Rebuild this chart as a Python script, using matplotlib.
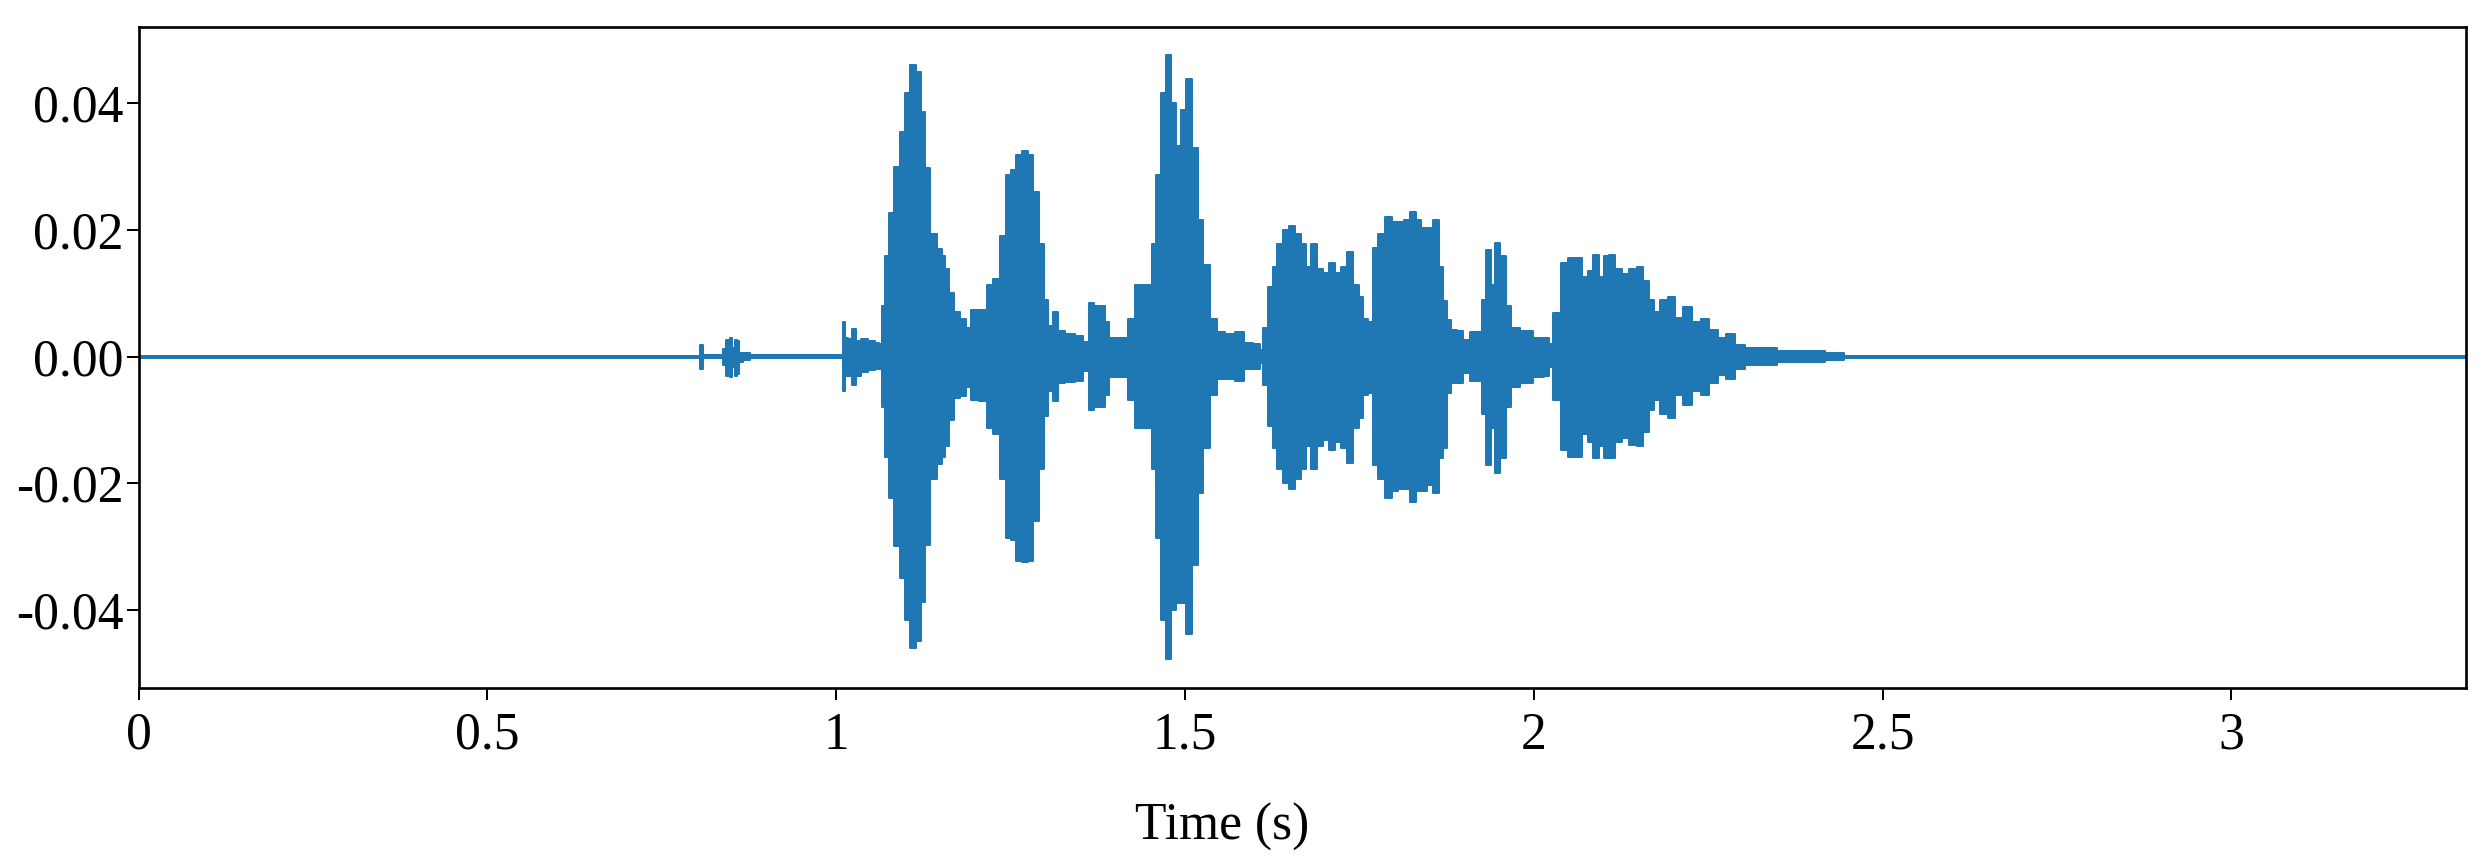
import matplotlib
matplotlib.use("Agg")
import matplotlib.pyplot as plt
import numpy as np

# Envelope of the waveform (time in s, amplitude)
time_s = [0.0, 0.803, 0.805, 0.808, 0.810, 0.836, 0.840, 0.845, 0.849, 0.853,
          0.856, 0.859, 0.862, 0.872, 0.880, 1.008, 1.011, 1.014, 1.020, 1.026,
          1.032, 1.040, 1.050, 1.060, 1.064, 1.0676, 1.0724, 1.0795, 1.0867, 1.0963,
          1.1010, 1.1096, 1.1177, 1.1249, 1.1297, 1.1392, 1.1488, 1.153, 1.158, 1.165,
          1.172, 1.182, 1.189, 1.197, 1.211, 1.2205, 1.230, 1.2396, 1.2468, 1.254,
          1.261, 1.2708, 1.278, 1.2864, 1.2946, 1.3008, 1.3065, 1.3137, 1.321, 1.335,
          1.3495, 1.359, 1.3662, 1.373, 1.383, 1.3877, 1.393, 1.414, 1.4236, 1.433,
          1.450, 1.4546, 1.4618, 1.469, 1.4771, 1.4833, 1.4905, 1.4977, 1.5063, 1.5144,
          1.5216, 1.5311, 1.5407, 1.550, 1.565, 1.579, 1.591, 1.605, 1.610, 1.615,
          1.622, 1.629, 1.636, 1.646, 1.653, 1.6625, 1.6697, 1.677, 1.685, 1.6936,
          1.7022, 1.7103, 1.720, 1.727, 1.7366, 1.7462, 1.752, 1.758, 1.7653, 1.7725,
          1.782, 1.7916, 1.801, 1.8107, 1.8178, 1.8265, 1.8346, 1.8418, 1.8513, 1.8609,
          1.868, 1.873, 1.8776, 1.885, 1.894, 1.904, 1.9134, 1.923, 1.9278, 1.935,
          1.9421, 1.947, 1.9564, 1.9636, 1.971, 1.990, 2.009, 2.019, 2.0234, 2.033,
          2.0449, 2.0544, 2.064, 2.0735, 2.0807, 2.0888, 2.0974, 2.1046, 2.1118, 2.1213,
          2.1309, 2.1428, 2.1524, 2.1619, 2.1691, 2.1763, 2.1858, 2.1978, 2.2074, 2.2203,
          2.2336, 2.2456, 2.2575, 2.2695, 2.2824, 2.2958, 2.3101, 2.340, 2.358, 2.406,
          2.430, 2.460, 3.336]

upper = [0.0, 0.0, 0.0019, 0.0019, 0.0002, 0.0002, 0.0012, 0.0026, 0.0030, 0.0014,
         0.0026, 0.0024, 0.0006, 0.0006, 0.0002, 0.0002, 0.0055, 0.0030, 0.0027, 0.0043,
         0.0025, 0.0027, 0.0025, 0.0022, 0.0020, 0.0080, 0.0158, 0.0226, 0.0300, 0.0355,
         0.0416, 0.0460, 0.0450, 0.0387, 0.0297, 0.0194, 0.0170, 0.0158, 0.0139, 0.0100,
         0.0070, 0.0060, 0.0045, 0.0074, 0.0074, 0.0113, 0.0123, 0.0190, 0.0287, 0.0294,
         0.0319, 0.0325, 0.0319, 0.0260, 0.0177, 0.0090, 0.0048, 0.0070, 0.0040, 0.0035,
         0.0032, 0.0023, 0.0084, 0.0080, 0.0080, 0.0055, 0.0030, 0.0030, 0.0060, 0.0113,
         0.0113, 0.0177, 0.0287, 0.0416, 0.0476, 0.0400, 0.0332, 0.0390, 0.0439, 0.0330,
         0.0216, 0.0145, 0.0060, 0.0038, 0.0035, 0.0039, 0.0022, 0.0020, 0.0010, 0.0045,
         0.0110, 0.0142, 0.0177, 0.0200, 0.0206, 0.0194, 0.0177, 0.0142, 0.0177, 0.0139,
         0.0132, 0.0148, 0.0132, 0.0142, 0.0165, 0.0113, 0.0094, 0.0060, 0.0055, 0.0171,
         0.0194, 0.0221, 0.0213, 0.0213, 0.0216, 0.0229, 0.0216, 0.0203, 0.0203, 0.0216,
         0.0142, 0.0087, 0.0058, 0.0042, 0.0040, 0.0026, 0.0039, 0.0039, 0.0090, 0.0168,
         0.0113, 0.0180, 0.0158, 0.0080, 0.0045, 0.0040, 0.0030, 0.0030, 0.0020, 0.0068,
         0.0148, 0.0155, 0.0155, 0.0126, 0.0135, 0.0161, 0.0126, 0.0158, 0.0161, 0.0139,
         0.0130, 0.0139, 0.0142, 0.0119, 0.0090, 0.0071, 0.0090, 0.0094, 0.0061, 0.0079,
         0.0055, 0.0060, 0.0042, 0.0030, 0.0035, 0.0019, 0.0013, 0.0013, 0.0008, 0.0008,
         0.0005, 0.0, 0.0]

lower = [0.0, 0.0, -0.0019, -0.0019, -0.0002, -0.0002, -0.0014, -0.0030, -0.0032, -0.0016,
         -0.0030, -0.0028, -0.0008, -0.0006, -0.0002, -0.0002, -0.0055, -0.0030, -0.0030, -0.0045,
         -0.0030, -0.0025, -0.0022, -0.0020, -0.0020, -0.0080, -0.0158, -0.0223, -0.0300, -0.0350,
         -0.0416, -0.0460, -0.0450, -0.0387, -0.0297, -0.0194, -0.0170, -0.0158, -0.0142, -0.0100,
         -0.0065, -0.0062, -0.0048, -0.0068, -0.0070, -0.0113, -0.0123, -0.0194, -0.0287, -0.0290,
         -0.0323, -0.0325, -0.0323, -0.0260, -0.0177, -0.0094, -0.0055, -0.0070, -0.0042, -0.0040,
         -0.0038, -0.0023, -0.0084, -0.0080, -0.0080, -0.0060, -0.0032, -0.0032, -0.0068, -0.0113,
         -0.0113, -0.0177, -0.0287, -0.0416, -0.0477, -0.0400, -0.0390, -0.0390, -0.0439, -0.0330,
         -0.0216, -0.0145, -0.0060, -0.0036, -0.0035, -0.0039, -0.0020, -0.0020, -0.0010, -0.0045,
         -0.0110, -0.0145, -0.0177, -0.0200, -0.0210, -0.0194, -0.0177, -0.0142, -0.0177, -0.0142,
         -0.0132, -0.0148, -0.0135, -0.0145, -0.0168, -0.0113, -0.0097, -0.0060, -0.0058, -0.0171,
         -0.0194, -0.0223, -0.0213, -0.0210, -0.0210, -0.0229, -0.0213, -0.0213, -0.0203, -0.0216,
         -0.0160, -0.0145, -0.0058, -0.0042, -0.0042, -0.0026, -0.0039, -0.0039, -0.0090, -0.0171,
         -0.0113, -0.0184, -0.0161, -0.0080, -0.0048, -0.0042, -0.0032, -0.0030, -0.0016, -0.0068,
         -0.0148, -0.0158, -0.0158, -0.0123, -0.0135, -0.0161, -0.0142, -0.0161, -0.0161, -0.0135,
         -0.0129, -0.0139, -0.0142, -0.0119, -0.0084, -0.0068, -0.0090, -0.0097, -0.0061, -0.0077,
         -0.0055, -0.0061, -0.0042, -0.0029, -0.0035, -0.0019, -0.0013, -0.0013, -0.0008, -0.0008,
         -0.0005, 0.0, 0.0]

x_ticks = [0, 0.5, 1, 1.5, 2, 2.5, 3]
x_tick_labels = ["0", "0.5", "1", "1.5", "2", "2.5", "3"]
y_ticks = [-0.04, -0.02, 0.0, 0.02, 0.04]
y_tick_labels = ["-0.04", "-0.02", "0.00", "0.02", "0.04"]
x_label = "Time (s)"

color = "#1f77b4"

plt.rcParams["font.family"] = ["Liberation Serif", "DejaVu Serif"]

fig = plt.figure(figsize=(10.35, 866 / 240), dpi=240)
ax = fig.add_axes([0.05584, 0.20520, 0.99264 - 0.05584, 0.96848 - 0.20520])

t = np.array(time_s)
up = np.array(upper)
lo = np.array(lower)

ax.fill_between(t, lo, up, step="mid", color=color, linewidth=0.6, edgecolor=color)
ax.plot([time_s[0], time_s[-1]], [0, 0], color=color, linewidth=1.2)

ax.set_xlim(0, 3.336)
ax.set_ylim(-0.0524, 0.0520)

ax.set_xticks(x_ticks)
ax.set_xticklabels(x_tick_labels)
ax.set_yticks(y_ticks)
ax.set_yticklabels(y_tick_labels)
ax.tick_params(axis="both", labelsize=15.5, length=3.5, width=0.6, direction="out")
ax.tick_params(axis="y", pad=1.0)
ax.tick_params(axis="x", pad=3.5)
for s in ax.spines.values():
    s.set_linewidth(0.8)

ax.set_xlabel(x_label, fontsize=15.5)
ax.xaxis.set_label_coords(0.4654, -0.1735)

fig.savefig("out.png", dpi=240)
